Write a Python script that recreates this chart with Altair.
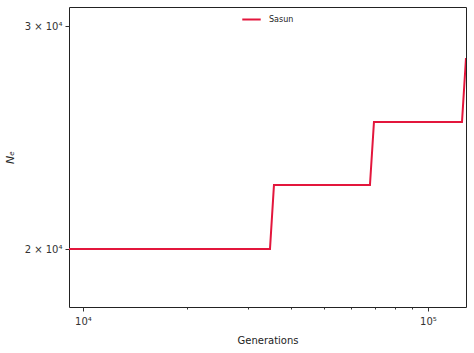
import altair as alt
import pandas as pd

generations = [9110, 34840, 35780, 67900, 69740, 125500, 128900]
ne = [20000, 20000, 22470, 22470, 25200, 25200, 28310]
population = ["Sasun"] * len(generations)

x_ticks = [10000, 20000, 30000, 40000, 50000, 60000, 70000, 80000, 90000, 100000]
y_ticks = [20000, 30000]

df = pd.DataFrame({"Generations": generations, "Ne": ne, "pop": population})

font = "DejaVu Sans"

chart = alt.Chart(df).mark_line(strokeWidth=2, clip=True).encode(
    x=alt.X("Generations:Q",
            scale=alt.Scale(type="log", domain=[9110, 128900], nice=False, zero=False),
            axis=alt.Axis(title="Generations", values=x_ticks, grid=False,
                          labelExpr="datum.value == 10000 ? '10⁴' : (datum.value == 100000 ? '10⁵' : '')",
                          tickSize={"condition": {"test": "datum.value == 10000 || datum.value == 100000", "value": 4}, "value": 2},
                          tickColor="#333333", labelColor="#333333", titleColor="#222222",
                          labelFontSize=10, titleFontSize=10, labelFont=font, titleFont=font,
                          domain=False, labelPadding=5, titlePadding=9, labelFlush=False)),
    y=alt.Y("Ne:Q",
            scale=alt.Scale(type="log", domain=[18000, 31060], nice=False, zero=False),
            axis=alt.Axis(title="Nₑ", values=y_ticks, grid=False,
                          labelExpr="datum.value == 20000 ? '2 × 10⁴' : '3 × 10⁴'",
                          tickSize=4, tickColor="#333333", labelColor="#333333", titleColor="#222222",
                          labelFontSize=10, titleFontSize=11, labelFont=font, titleFont=font,
                          titleFontStyle="italic", titleFontWeight="normal",
                          domain=False, labelPadding=3, titlePadding=9)),
    color=alt.Color("pop:N", scale=alt.Scale(domain=["Sasun"], range=["#e3163c"]),
                    legend=alt.Legend(title=None, orient="none", legendX=172, legendY=2,
                                      symbolType="stroke", symbolStrokeWidth=2, symbolSize=340,
                                      labelOffset=7,
                                      labelFont=font, labelFontSize=8, labelColor="#222222",
                                      padding=0)),
).properties(
    width=397, height=300,
    autosize=alt.AutoSizeParams(type="none"),
    padding={"left": 69, "top": 7, "right": 8, "bottom": 46},
).configure_view(
    stroke="#222222", strokeWidth=1
).configure_axisX(titleFontWeight="normal")

chart.save("out.html", embed_options={"renderer": "svg", "actions": False})
